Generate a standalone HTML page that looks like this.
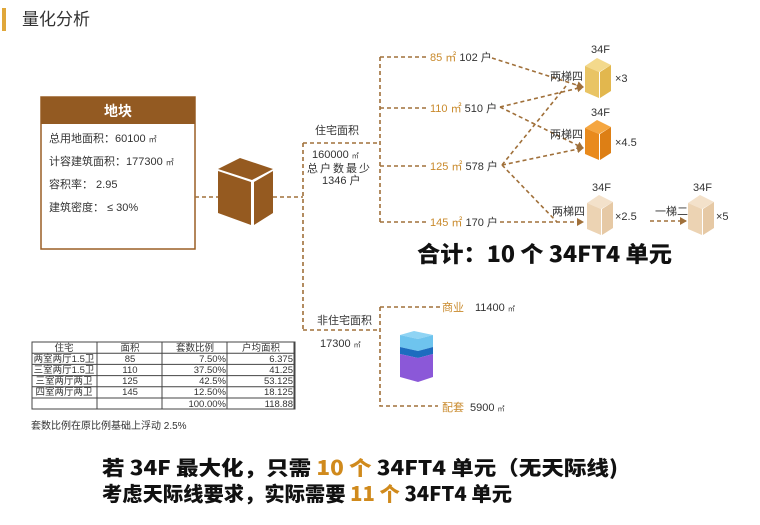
<!DOCTYPE html>
<html><head><meta charset="utf-8"><style>
body{margin:0;background:#fff;}
svg{display:block;font-family:"Liberation Sans","Noto Sans CJK SC",sans-serif;}
.d{stroke:#a0703a;stroke-width:1.6;stroke-dasharray:4 3;fill:none}
.t{font-size:11px;fill:#333}
.o{fill:#c98a2c}
.big{font-family:"Noto Sans CJK SC","WenQuanYi Zen Hei",sans-serif;font-weight:900;}
</style></head><body>
<svg width="760" height="525" viewBox="0 0 760 525">
<defs><marker id="a" markerWidth="8" markerHeight="8" refX="6" refY="4" orient="auto" markerUnits="userSpaceOnUse"><path d="M0,0 L7,4 L0,8 z" fill="#a0703a"/></marker></defs>
<rect x="2" y="8" width="4" height="23" fill="#e0a73a"/>
<text x="22" y="25" font-size="17" fill="#333">量化分析</text>
<!-- land box -->
<rect x="41" y="97" width="154" height="152" fill="#fff" stroke="#9a5f25" stroke-width="1.5"/>
<rect x="41" y="97" width="154" height="27" fill="#935a22"/>
<text x="118" y="116" font-size="14" font-weight="bold" fill="#fff" text-anchor="middle">地块</text>
<text x="49" y="142" class="t" font-size="12">总用地面积：60100 <tspan font-size="8">㎡</tspan></text>
<text x="49" y="165" class="t" font-size="12">计容建筑面积：177300 <tspan font-size="8">㎡</tspan></text>
<text x="49" y="188" class="t" font-size="12">容积率： 2.95</text>
<text x="49" y="211" class="t" font-size="12">建筑密度： ≤ 30%</text>
<path class="d" d="M195,197 H218 M273,197 H303 M303,143 V330 M303,143 H380 M380,57 V222 M380,57 H428 M380,108 H428 M380,166 H428 M380,222 H428 M303,330 H380 M380,307 V406 H438 M380,307 H440"/>
<!-- brown cube -->
<polygon points="218,169 240,158 273,169 252,180" fill="#955a20"/>
<polygon points="218,171 251,182 251,225 218,213" fill="#955a20"/>
<polygon points="254,182 273,171 273,213 254,225" fill="#955a20"/>
<text x="315" y="134" class="t" font-size="10.5">住宅面积</text>
<text x="312" y="158" class="t" font-size="10.5">160000 <tspan font-size="7">㎡</tspan></text>
<text x="307" y="172" class="t" font-size="10.5" letter-spacing="2">总户数最少</text>
<text x="322" y="184" class="t" font-size="10.5">1346 户</text>
<!-- labels -->
<text x="430" y="61" class="t o" font-size="11">85 ㎡ <tspan fill="#333">102 户</tspan></text>
<text x="430" y="112" class="t o" font-size="11">110 ㎡ <tspan fill="#333">510 户</tspan></text>
<text x="430" y="170" class="t o" font-size="11">125 ㎡ <tspan fill="#333">578 户</tspan></text>
<text x="430" y="226" class="t o" font-size="11">145 ㎡ <tspan fill="#333">170 户</tspan></text>
<path class="d" marker-end="url(#a)" d="M492,58 L583,87"/>
<path class="d" marker-end="url(#a)" d="M500,107 L583,87"/>
<path class="d" marker-end="url(#a)" d="M500,107 L583,148"/>
<path class="d" d="M502,165 L566,86"/>
<path class="d" marker-end="url(#a)" d="M502,165 L583,148"/>
<path class="d" d="M502,165 L557,222"/>
<path class="d" marker-end="url(#a)" d="M500,222 L583,222"/>
<path class="d" marker-end="url(#a)" d="M650,221 L686,221"/>
<text x="550" y="80" class="t" font-size="10">两梯四</text>
<text x="550" y="138" class="t" font-size="10">两梯四</text>
<text x="552" y="215" class="t" font-size="10">两梯四</text>
<text x="655" y="215" class="t" font-size="10">一梯二</text>
<!-- small boxes -->
<g>
<polygon points="585,66 597,58 611,65 599,72" fill="#f3d98c"/><polygon points="585,66 599,72 599,98 585,92" fill="#e9c464"/><polygon points="600,72 611,65 611,91 600,98" fill="#e2b74e"/>
<polygon points="585,128 597,120 611,127 599,134" fill="#f5a640"/><polygon points="585,128 599,134 599,160 585,154" fill="#e98a1c"/><polygon points="600,134 611,127 611,153 600,160" fill="#dd7f15"/>
<polygon points="587,203 599,195 613,202 601,209" fill="#f3e1ca"/><polygon points="587,203 601,209 601,235 587,229" fill="#ecd3b3"/><polygon points="602,209 613,202 613,228 602,235" fill="#e6c9a5"/>
<polygon points="688,203 700,195 714,202 702,209" fill="#f3e1ca"/><polygon points="688,203 702,209 702,235 688,229" fill="#ecd3b3"/><polygon points="703,209 714,202 714,228 703,235" fill="#e6c9a5"/>
</g>
<text x="591" y="53" class="t" font-size="11">34F</text><text x="615" y="82" class="t" font-size="11">×3</text>
<text x="591" y="116" class="t" font-size="11">34F</text><text x="615" y="146" class="t" font-size="11">×4.5</text>
<text x="592" y="191" class="t" font-size="11">34F</text><text x="615" y="220" class="t" font-size="11">×2.5</text>
<text x="693" y="191" class="t" font-size="11">34F</text><text x="716" y="220" class="t" font-size="11">×5</text>
<text x="417" y="262" class="big" font-size="22" fill="#111" textLength="255" lengthAdjust="spacingAndGlyphs">合计：10 个 34FT4 单元</text>
<!-- non-residential -->
<text x="317" y="324" class="t" font-size="10.5">非住宅面积</text>
<text x="320" y="347" class="t" font-size="10.5">17300 <tspan font-size="7">㎡</tspan></text>
<text x="442" y="311" font-size="11" class="o">商业</text><text x="475" y="311" class="t" font-size="10.5">11400 <tspan font-size="7">㎡</tspan></text>
<text x="442" y="411" font-size="11" class="o">配套</text><text x="470" y="411" class="t" font-size="10.5">5900 <tspan font-size="7">㎡</tspan></text>
<polygon points="400,335 414,331 433,335 418,339" fill="#8fd4f4"/>
<polygon points="400,335 418,339 418,351 400,347" fill="#6ec4ee"/><polygon points="418,339 433,335 433,347 418,351" fill="#6ec4ee"/>
<polygon points="400,347 418,351 418,358 400,354" fill="#1d6cbf"/><polygon points="418,351 433,347 433,354 418,358" fill="#1d6cbf"/>
<polygon points="400,354 418,358 418,382 400,377" fill="#8b58d8"/><polygon points="418,358 433,354 433,377 418,382" fill="#8b58d8"/>
<!-- table -->
<g stroke="#444" stroke-width="1" fill="none">
<rect x="32" y="342" width="263" height="67"/>
<path d="M32,353.2H295M32,364.4H295M32,375.6H295M32,386.8H295M32,398H295M97,342V409M162,342V409M227,342V409M294,342V409"/>
</g>
<g font-size="9.5" fill="#333">
<text x="64" y="351" text-anchor="middle">住宅</text><text x="130" y="351" text-anchor="middle">面积</text><text x="195" y="351" text-anchor="middle">套数比例</text><text x="261" y="351" text-anchor="middle">户均面积</text>
<text x="64" y="362" text-anchor="middle">两室两厅1.5卫</text><text x="130" y="362" text-anchor="middle">85</text><text x="226" y="362" text-anchor="end">7.50%</text><text x="293" y="362" text-anchor="end">6.375</text>
<text x="64" y="373" text-anchor="middle">三室两厅1.5卫</text><text x="130" y="373" text-anchor="middle">110</text><text x="226" y="373" text-anchor="end">37.50%</text><text x="293" y="373" text-anchor="end">41.25</text>
<text x="64" y="384" text-anchor="middle">三室两厅两卫</text><text x="130" y="384" text-anchor="middle">125</text><text x="226" y="384" text-anchor="end">42.5%</text><text x="293" y="384" text-anchor="end">53.125</text>
<text x="64" y="395" text-anchor="middle">四室两厅两卫</text><text x="130" y="395" text-anchor="middle">145</text><text x="226" y="395" text-anchor="end">12.50%</text><text x="293" y="395" text-anchor="end">18.125</text>
<text x="226" y="407" text-anchor="end">100.00%</text><text x="293" y="407" text-anchor="end">118.88</text>
</g>
<text x="31" y="429" font-size="10" fill="#333">套数比例在原比例基础上浮动 2.5%</text>
<text x="102" y="475" class="big" font-size="20" fill="#111" textLength="516" lengthAdjust="spacingAndGlyphs">若 34F 最大化，只需 <tspan fill="#d08a1c">10 个</tspan> 34FT4 单元（无天际线)</text>
<text x="102" y="501" class="big" font-size="20" fill="#111" textLength="410" lengthAdjust="spacingAndGlyphs">考虑天际线要求，实际需要 <tspan fill="#d08a1c">11 个</tspan> 34FT4 单元</text>
</svg>
</body></html>
